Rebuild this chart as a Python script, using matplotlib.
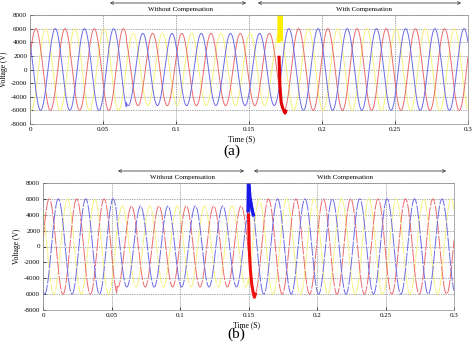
import numpy as np
import matplotlib
matplotlib.use("Agg")
import matplotlib.pyplot as plt

plt.rcParams['font.family'] = ['Liberation Serif', 'DejaVu Serif']

FREQ = 50.0  # Hz

# (a) supply voltage: segment edges (s) and peak voltage per segment
a_edges = [0.0, 0.066, 0.171, 0.3]
a_amp = [6000, 5300, 6000]
# time of first positive peak for each phase (s)
a_peak = {'red': 0.0040, 'yellow': 0.0107, 'blue': 0.0173}
# switching transient at the compensator insertion
a_spike_yellow_t = [0.1704, 0.1708, 0.1713, 0.1718, 0.1722]
a_spike_yellow_v = [3900, 8000, 4500, 8000, 4200]
a_spike_red_t = [0.1706, 0.1712, 0.1720, 0.1730, 0.1740, 0.1747, 0.1752]
a_spike_red_v = [1800, -2500, -4800, -5600, -6100, -6400, -6100]

# (b) supply voltage
b_edges = [0.0, 0.054, 0.150, 0.3]
b_amp = [6000, 5100, 6000]
b_peak = {'red': 0.0046, 'blue': 0.0112, 'yellow': 0.0179}
b_spike_blue_t = [0.1497, 0.1500, 0.1503, 0.1510, 0.1518, 0.1526, 0.1535]
b_spike_blue_v = [4500, 8000, 7600, 6200, 5400, 4600, 4000]
b_spike_red_t = [0.1500, 0.1506, 0.1514, 0.1524, 0.1534, 0.1543, 0.1550]
b_spike_red_v = [4000, -500, -3000, -4800, -5800, -6400, -6000]

xticks = [0, 0.05, 0.1, 0.15, 0.2, 0.25, 0.3]
xticklabels = ['0', '0.05', '0.1', '0.15', '0.2', '0.25', '0.3']
yticks = [-8000, -6000, -4000, -2000, 0, 2000, 4000, 6000, 8000]
a_yticklabels = ['-8000', '-6000', '-4000', '-2000', '0', '2000', '4000', '6000', '8000']
b_yticklabels = ['-8000', '6000', '-4000', '-2000', '0', '2000', '4000', '6000', '8000']

colors = {'red': '#ec6a6e', 'blue': '#6b6be6', 'yellow': '#f6f27c'}


def phase_wave(t, edges, amps, t_peak):
    env = np.zeros_like(t)
    for lo, hi, a in zip(edges[:-1], edges[1:], amps):
        env[(t >= lo) & (t <= hi)] = a
    return env * np.cos(2 * np.pi * FREQ * (t - t_peak))


def style_axes(ax, yticklabels):
    ax.set_xlim(0, 0.3)
    ax.set_ylim(-8000, 8000)
    ax.set_xticks(xticks)
    ax.set_xticklabels(xticklabels)
    ax.set_yticks(yticks)
    ax.set_yticklabels(yticklabels)
    ax.tick_params(labelsize=5, length=2, width=0.5, direction='in', pad=2)
    ax.grid(True, linestyle=(0, (1, 1.5)), color='#555555', linewidth=0.5)
    for s in ax.spines.values():
        s.set_linewidth(0.5)
        s.set_color('#888888')
    ax.set_ylabel('Voltage (V)', fontsize=5.5, labelpad=2)


fig = plt.figure(figsize=(4.74, 3.43), dpi=100)
t = np.linspace(0, 0.3, 6000)

# ---- (a)
ax1 = fig.add_axes([30 / 474, 1 - 124 / 343, 438 / 474, 109 / 343])
for name in ['yellow', 'red', 'blue']:
    ax1.plot(t, phase_wave(t, a_edges, a_amp, a_peak[name]),
             color=colors[name], lw=0.7)
ax1.plot(a_spike_yellow_t, a_spike_yellow_v, color='#ffee00', lw=2.5, solid_capstyle='butt')
ax1.plot(a_spike_red_t, a_spike_red_v, color='#e00000', lw=2.2)
style_axes(ax1, a_yticklabels)

# ---- (b)
ax2 = fig.add_axes([43 / 474, 1 - 310 / 343, 411 / 474, 127 / 343])
for name in ['yellow', 'red', 'blue']:
    ax2.plot(t, phase_wave(t, b_edges, b_amp, b_peak[name]),
             color=colors[name], lw=0.7, linestyle=(0, (14, 1.5)))
ax2.plot(b_spike_blue_t, b_spike_blue_v, color='#1a1ae8', lw=2.5)
ax2.plot(b_spike_red_t, b_spike_red_v, color='#ee1010', lw=2.2)
style_axes(ax2, b_yticklabels)


def span_arrow(x0, x1, y, label, xt, yt):
    fig.add_artist(matplotlib.patches.FancyArrowPatch(
        (x0 / 474, 1 - y / 343), (x1 / 474, 1 - y / 343),
        arrowstyle='<->', mutation_scale=5, lw=0.6, color='#444444',
        transform=fig.transFigure))
    fig.text(xt / 474, 1 - yt / 343, label, fontsize=5, ha='center', va='center')


span_arrow(107, 249, 3, 'Without Compensation', 180, 9)
span_arrow(255, 464, 3, 'With Compensation', 364, 9)
span_arrow(115, 247, 171, 'Without Compensation', 182, 177)
span_arrow(251, 449, 171, 'With Compensation', 345, 177)

fig.text(242 / 474, 1 - 139 / 343, 'Time (S)', fontsize=5.5, ha='center', va='center')
fig.text(232 / 474, 1 - 151 / 343, '(a)', fontsize=11, ha='center', va='center')
fig.text(247 / 474, 1 - 325 / 343, 'Time (S)', fontsize=5.5, ha='center', va='center')
fig.text(236 / 474, 1 - 334 / 343, '(b)', fontsize=11, ha='center', va='center')

fig.savefig('out.png', dpi=100)
